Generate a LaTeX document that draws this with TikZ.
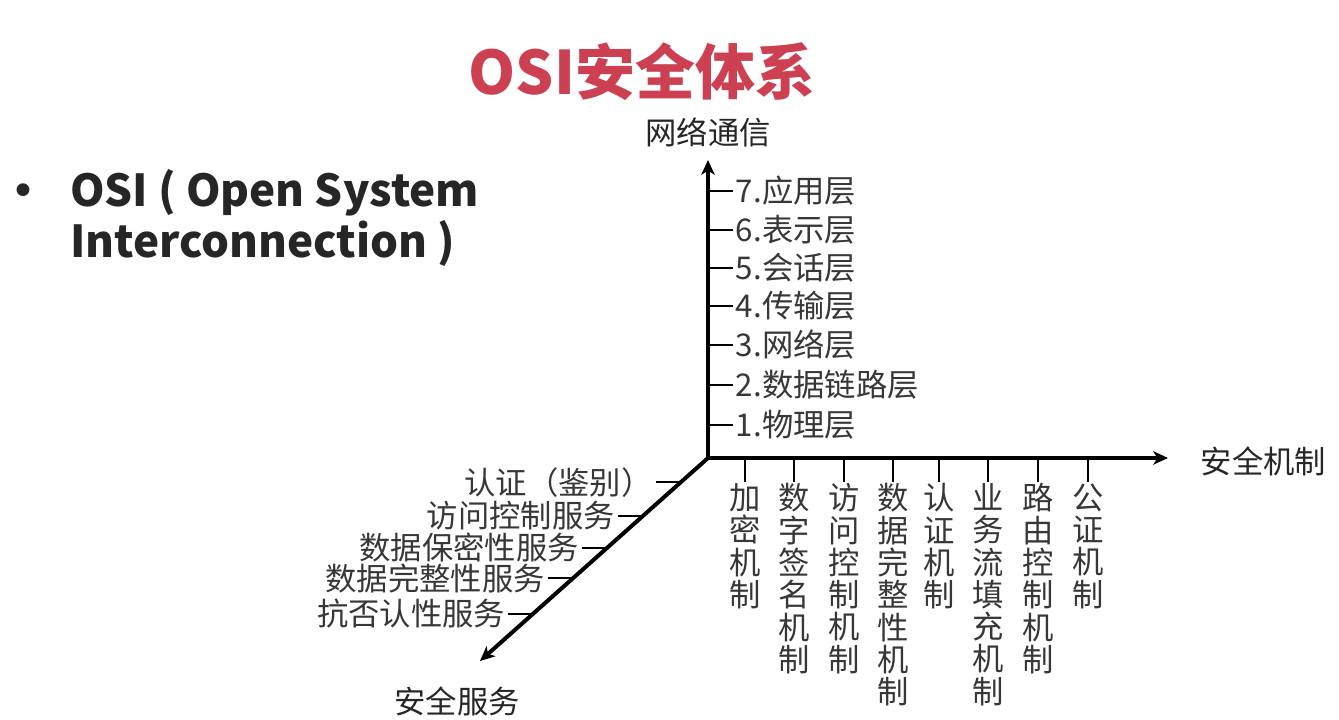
\documentclass[tikz,border=0pt]{standalone}
\usepackage{fontspec}
\setmainfont{Noto Sans CJK SC}
\newfontfamily\dejavu{DejaVu Sans}
\usetikzlibrary{calc,arrows.meta}
\definecolor{titlered}{RGB}{204,64,82}
\definecolor{labelgray}{RGB}{55,55,55}
\tikzset{
  axis/.style={line width=3pt, miter limit=10, -{Stealth[length=11pt,width=10pt,inset=3pt]}},
  tick/.style={line width=1.5pt},
  lay/.style={font=\fontsize{23.5}{23.25}\selectfont, text=labelgray, inner sep=2pt},
  mech/.style={lay, font=\fontsize{23.5}{24.2}\selectfont, align=center, inner sep=1pt, anchor=north},
  axislabel/.style={font=\fontsize{23.5}{24}\selectfont, text=black!85},
  heading/.style={font=\fontsize{33}{40}\selectfont\bfseries, text=black!85, anchor=base west, inner sep=0pt},
}
\begin{document}
\begin{tikzpicture}[x=0.75pt,y=-0.75pt]
\useasboundingbox (0,0) rectangle (1339,720);
% title and heading
\node[font=\fontsize{45}{50}\selectfont\bfseries, text=titlered] (title) at (642,72) {OSI安全体系};
\node[font=\fontsize{33}{40}\selectfont\dejavu, text=black!85, anchor=base, inner sep=0pt] (dot) at (23,207) {•};
\node[heading] (osi) at (70,207) {OSI ( Open System};
\node[heading] (osi2) at (70,258) {Interconnection )};
% axes
\coordinate (O) at (708,458);
\coordinate (Y) at (708,160);
\coordinate (X) at (1168,458);
\coordinate (Z) at (480,661);
\draw[axis] (O) -- (Y);
\draw[axis] (O) -- (X);
\draw[axis] (O) -- (Z);
\node[axislabel] (ylab) at (708,132) {网络通信};
\node[axislabel, anchor=west] (xlab) at (1196,461) {安全机制};
\node[axislabel] (zlab) at (457,701) {安全服务};
% layers
\foreach \n/\txt/\y in {7/应用层/191,6/表示层/230,5/会话层/268,4/传输层/306,3/网络层/345,2/数据链路层/385,1/物理层/425}
{
  \node[lay, anchor=west] (l\n) at (733,\y) {\n.\txt};
  \draw[tick] (l\n.west) -- (O |- l\n.west);
}
% mechanisms
\foreach \i/\x/\txt in {1/745/加\\密\\机\\制,2/794/数\\字\\签\\名\\机\\制,3/844/访\\问\\控\\制\\机\\制,4/893/数\\据\\完\\整\\性\\机\\制,5/939/认\\证\\机\\制,6/988/业\\务\\流\\填\\充\\机\\制,7/1038/路\\由\\控\\制\\机\\制,8/1088/公\\证\\机\\制}
{
  \node[mech] (m\i) at (\x,482) {\txt};
  \draw[tick] (m\i.north) -- (m\i.north |- O);
}
% services
\foreach \i/\pos/\txt in {1/0.119/认证（鉴别）,2/0.284/访问控制服务,3/0.443/数据保密性服务,4/0.592/数据完整性服务,5/0.766/抗否认性服务}
{
  \coordinate (s\i) at ($(O)!\pos!(Z)$);
  \node[lay, anchor=east] (sv\i) at ([xshift=-19pt]s\i) {\txt};
  \draw[tick] (sv\i.east) -- (s\i);
}
\end{tikzpicture}
\end{document}
